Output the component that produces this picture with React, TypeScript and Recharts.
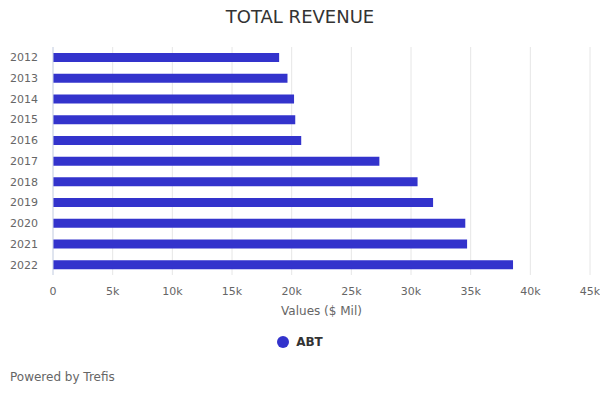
import React from "react";
import { BarChart, Bar, XAxis, YAxis, CartesianGrid } from "recharts";

const years = ["2012", "2013", "2014", "2015", "2016", "2017", "2018", "2019", "2020", "2021", "2022"];
const abt = [18950, 19650, 20200, 20300, 20800, 27350, 30550, 31850, 34550, 34700, 38550];
const xTicks = [0, 5000, 10000, 15000, 20000, 25000, 30000, 35000, 40000, 45000];

const data = years.map((y, i) => ({ year: y, ABT: abt[i] }));

const FONT = "'DejaVu Sans', sans-serif";

export default function App() {
  return (
    <div style={{ position: "fixed", left: 0, top: 0, width: 600, height: 400, background: "#fff", fontFamily: FONT }}>
      <div style={{ position: "absolute", top: 6, left: 0, width: 600, textAlign: "center", fontSize: 18, color: "#333333" }}>
        TOTAL REVENUE
      </div>
      <BarChart
        width={600}
        height={400}
        data={data}
        layout="vertical"
        margin={{ top: 47, right: 10, bottom: 85, left: 3 }}
        barCategoryGap={0}
      >
        <CartesianGrid horizontal={false} stroke="#e6e6e6" />
        <XAxis
          type="number"
          domain={[0, 45000]}
          ticks={xTicks}
          interval={0}
          tickFormatter={(v: number) => (v === 0 ? "0" : `${v / 1000}k`)}
          axisLine={false}
          tickLine={false}
          tick={{ fill: "#666666", fontSize: 11, fontFamily: FONT }}
          tickMargin={6}
          height={40}
          label={{ value: "Values ($ Mil)", position: "insideBottom", offset: 0, fill: "#666666", fontSize: 12, fontFamily: FONT }}
        />
        <YAxis
          type="category"
          dataKey="year"
          width={50}
          axisLine={{ stroke: "#ccd6eb" }}
          tickLine={false}
          tick={{ fill: "#666666", fontSize: 11, fontFamily: FONT }}
          tickMargin={9}
        />
        <Bar dataKey="ABT" fill="#3333cc" barSize={9} isAnimationActive={false} />
      </BarChart>
      <div style={{ position: "absolute", top: 335, left: 0, width: 600, display: "flex", justifyContent: "center", alignItems: "center" }}>
        <svg width={12} height={12} style={{ marginRight: 7 }}>
          <circle cx={6} cy={6} r={6} fill="#3333cc" />
        </svg>
        <span style={{ fontSize: 12, fontWeight: "bold", color: "#333333" }}>ABT</span>
      </div>
      <div style={{ position: "absolute", left: 10, top: 370, fontSize: 12, color: "#666666" }}>Powered by Trefis</div>
    </div>
  );
}
